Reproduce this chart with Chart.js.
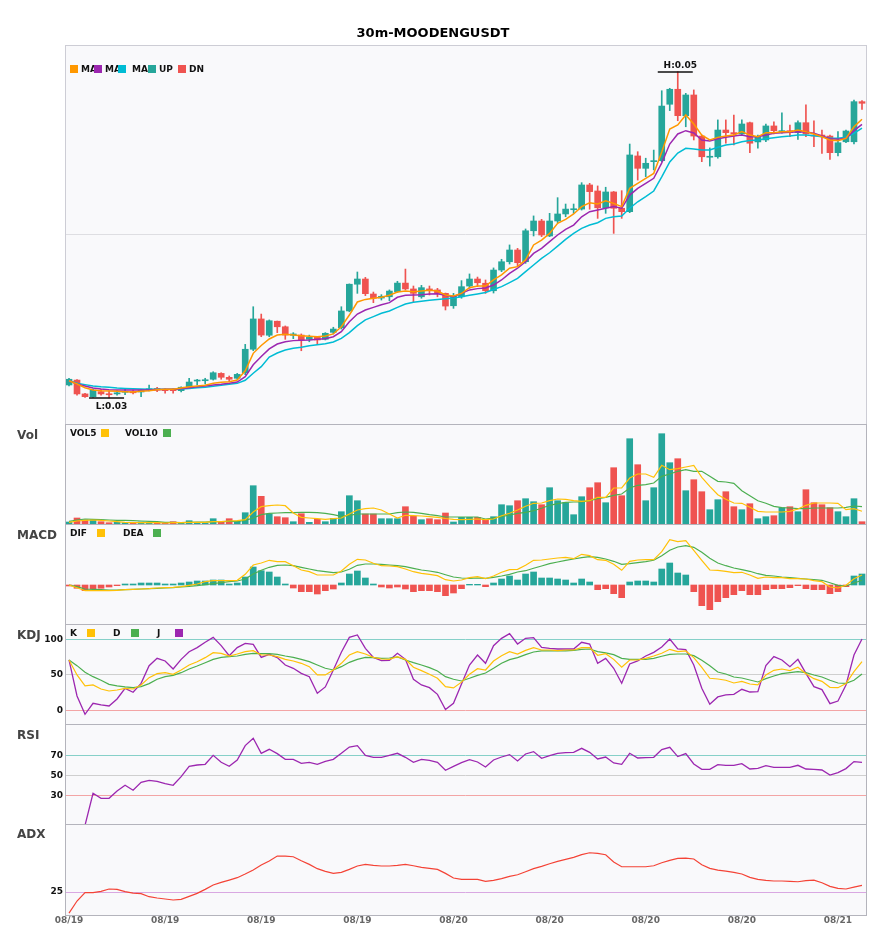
<!DOCTYPE html>
<html><head><meta charset="utf-8">
<script src="https://cdn.jsdelivr.net/npm/chart.js@4.4.1/dist/chart.umd.min.js"></script>
<style>
body{margin:0;background:#fff;}
#wrap{position:relative;width:885px;height:950px;overflow:hidden;font-family:'DejaVu Sans',sans-serif;}
canvas{position:absolute;left:0;}
.pl{position:absolute;left:17px;font-weight:bold;font-size:12px;color:#444;line-height:14px;white-space:nowrap;}
.lg{position:absolute;font-weight:bold;font-size:9px;color:#111;line-height:10px;white-space:nowrap;}
.sq{position:absolute;width:8px;height:8px;}
</style></head><body>
<div id="wrap">
<canvas id="cMain" width="885" height="424" style="top:0px"></canvas>
<canvas id="cVol" width="885" height="100" style="top:424px"></canvas>
<canvas id="cMacd" width="885" height="100" style="top:524px"></canvas>
<canvas id="cKdj" width="885" height="100" style="top:624px"></canvas>
<canvas id="cRsi" width="885" height="100" style="top:724px"></canvas>
<canvas id="cAdx" width="885" height="126" style="top:824px"></canvas>

<span class="lg" style="left:81px;top:64px">MA</span>
<span class="lg" style="left:105px;top:64px">MA</span>
<span class="lg" style="left:132px;top:64px">MA</span>
<span class="lg" style="left:159px;top:64px">UP</span>
<span class="lg" style="left:189px;top:64px">DN</span>
<span class="sq" style="left:70px;top:65px;background:#ff9800"></span>
<span class="sq" style="left:94px;top:65px;background:#9c27b0"></span>
<span class="sq" style="left:118px;top:65px;background:#00bcd4"></span>
<span class="sq" style="left:148px;top:65px;background:#26a69a"></span>
<span class="sq" style="left:178px;top:65px;background:#ef5350"></span>

<div class="pl" style="top:428px">Vol</div>
<span class="lg" style="left:70px;top:428px">VOL5</span>
<span class="sq" style="left:101px;top:429px;background:#ffc107"></span>
<span class="lg" style="left:125px;top:428px">VOL10</span>
<span class="sq" style="left:163px;top:429px;background:#4caf50"></span>

<div class="pl" style="top:528px">MACD</div>
<span class="lg" style="left:70px;top:528px">DIF</span>
<span class="sq" style="left:97px;top:529px;background:#ffc107"></span>
<span class="lg" style="left:123px;top:528px">DEA</span>
<span class="sq" style="left:153px;top:529px;background:#4caf50"></span>

<div class="pl" style="top:628px">KDJ</div>
<span class="lg" style="left:70px;top:628px">K</span>
<span class="sq" style="left:87px;top:629px;background:#ffc107"></span>
<span class="lg" style="left:113px;top:628px">D</span>
<span class="sq" style="left:131px;top:629px;background:#4caf50"></span>
<span class="lg" style="left:157px;top:628px">J</span>
<span class="sq" style="left:175px;top:629px;background:#9c27b0"></span>

<div class="pl" style="top:728px">RSI</div>
<div class="pl" style="top:827px">ADX</div>
</div>
<script>
// ---------- data ----------
const tickLabels = ['08/19','08/19','08/19','08/19','08/20','08/20','08/20','08/20','08/21'];
const times = []; // 30m candles from 08/19 05:00
for (let i = 0; i < 100; i++) {
  const m = 300 + i * 30, d = 19 + Math.floor(m / 1440), mm = m % 1440;
  times.push('08/' + d + ' ' + String(Math.floor(mm / 60)).padStart(2, '0') + ':' + String(mm % 60).padStart(2, '0'));
}
const opens = [
0.03080,0.03110,0.03025,0.03008,0.03039,0.03025,0.03025,0.03035,0.03039,0.03037,
0.03049,0.03059,0.03049,0.03053,0.03045,0.03066,0.03104,0.03106,0.03115,0.03151,
0.03127,0.03121,0.03155,0.03299,0.03485,0.03385,0.03471,0.03437,0.03385,0.03386,
0.03360,0.03372,0.03360,0.03403,0.03431,0.03534,0.03698,0.03730,0.03638,0.03613,
0.03621,0.03652,0.03705,0.03669,0.03621,0.03667,0.03663,0.03642,0.03566,0.03621,
0.03687,0.03730,0.03704,0.03658,0.03785,0.03836,0.03908,0.03836,0.04026,0.04086,
0.03994,0.04086,0.04129,0.04155,0.04159,0.04307,0.04270,0.04167,0.04264,0.04164,
0.04143,0.04485,0.04409,0.04450,0.04456,0.04802,0.04894,0.04732,0.04859,0.04607,
0.04477,0.04480,0.04644,0.04628,0.04620,0.04689,0.04571,0.04583,0.04669,0.04632,
0.04640,0.04628,0.04689,0.04613,0.04613,0.04607,0.04505,0.04572,0.04572,0.04818];
const closes = [
0.03115,0.03025,0.03008,0.03049,0.03025,0.03020,0.03032,0.03039,0.03032,0.03049,
0.03057,0.03049,0.03045,0.03045,0.03066,0.03098,0.03110,0.03110,0.03155,0.03127,
0.03115,0.03145,0.03299,0.03485,0.03386,0.03474,0.03437,0.03386,0.03393,0.03356,
0.03372,0.03356,0.03397,0.03423,0.03534,0.03698,0.03730,0.03640,0.03612,0.03624,
0.03656,0.03705,0.03669,0.03642,0.03677,0.03663,0.03642,0.03564,0.03628,0.03683,
0.03730,0.03707,0.03658,0.03785,0.03836,0.03908,0.03830,0.04026,0.04086,0.04000,
0.04086,0.04129,0.04159,0.04159,0.04307,0.04266,0.04167,0.04264,0.04164,0.04143,
0.04491,0.04409,0.04440,0.04456,0.04791,0.04894,0.04732,0.04859,0.04607,0.04480,
0.04480,0.04644,0.04628,0.04620,0.04681,0.04563,0.04599,0.04669,0.04640,0.04640,
0.04628,0.04689,0.04620,0.04607,0.04607,0.04505,0.04566,0.04638,0.04818,0.04808];
const highs = [
0.03121,0.03113,0.03028,0.03055,0.03053,0.03043,0.03045,0.03059,0.03049,0.03053,
0.03080,0.03066,0.03057,0.03057,0.03069,0.03121,0.03115,0.03121,0.03161,0.03155,
0.03135,0.03151,0.03329,0.03560,0.03515,0.03479,0.03472,0.03442,0.03401,0.03393,
0.03386,0.03376,0.03401,0.03434,0.03560,0.03700,0.03773,0.03740,0.03650,0.03634,
0.03663,0.03716,0.03791,0.03687,0.03691,0.03687,0.03673,0.03644,0.03642,0.03720,
0.03761,0.03742,0.03724,0.03798,0.03851,0.03939,0.03918,0.04037,0.04117,0.04096,
0.04133,0.04229,0.04190,0.04190,0.04321,0.04317,0.04301,0.04293,0.04267,0.04272,
0.04558,0.04511,0.04471,0.04521,0.04885,0.04900,0.05002,0.04869,0.04890,0.04613,
0.04534,0.04706,0.04706,0.04736,0.04706,0.04693,0.04613,0.04681,0.04695,0.04750,
0.04675,0.04701,0.04798,0.04701,0.04644,0.04613,0.04634,0.04644,0.04828,0.04824];
const lows = [
0.03074,0.03018,0.03003,0.03003,0.03017,0.03000,0.03017,0.03020,0.03025,0.03008,
0.03043,0.03039,0.03029,0.03029,0.03037,0.03059,0.03080,0.03086,0.03110,0.03115,
0.03100,0.03115,0.03143,0.03290,0.03376,0.03376,0.03401,0.03360,0.03364,0.03290,
0.03345,0.03327,0.03356,0.03393,0.03423,0.03529,0.03642,0.03628,0.03585,0.03601,
0.03597,0.03648,0.03663,0.03591,0.03612,0.03632,0.03621,0.03540,0.03550,0.03612,
0.03673,0.03683,0.03642,0.03644,0.03775,0.03822,0.03806,0.03826,0.03994,0.03990,
0.03990,0.04075,0.04112,0.04133,0.04153,0.04158,0.04102,0.04133,0.04010,0.04102,
0.04137,0.04337,0.04358,0.04399,0.04450,0.04763,0.04701,0.04664,0.04583,0.04450,
0.04423,0.04471,0.04563,0.04552,0.04613,0.04505,0.04532,0.04572,0.04620,0.04624,
0.04603,0.04587,0.04603,0.04542,0.04501,0.04464,0.04485,0.04566,0.04558,0.04770];
const ma5 = [
0.03106,0.03086,0.03063,0.03049,0.03045,0.03043,0.03041,0.03039,0.03037,0.03041,
0.03045,0.03051,0.03053,0.03053,0.03061,0.03069,0.03074,0.03078,0.03090,0.03096,
0.03100,0.03110,0.03167,0.03274,0.03322,0.03362,0.03386,0.03391,0.03386,0.03382,
0.03379,0.03376,0.03380,0.03393,0.03437,0.03509,0.03589,0.03605,0.03612,0.03618,
0.03630,0.03650,0.03656,0.03652,0.03656,0.03661,0.03656,0.03632,0.03626,0.03642,
0.03677,0.03687,0.03687,0.03724,0.03755,0.03796,0.03806,0.03847,0.03939,0.03969,
0.04010,0.04072,0.04096,0.04129,0.04174,0.04198,0.04190,0.04210,0.04194,0.04174,
0.04286,0.04317,0.04348,0.04378,0.04509,0.04650,0.04675,0.04736,0.04681,0.04613,
0.04583,0.04599,0.04607,0.04613,0.04634,0.04613,0.04603,0.04628,0.04628,0.04634,
0.04634,0.04644,0.04634,0.04620,0.04603,0.04583,0.04579,0.04593,0.04664,0.04710];
const ma10 = [
0.03106,0.03086,0.03074,0.03061,0.03055,0.03051,0.03049,0.03049,0.03049,0.03049,
0.03049,0.03051,0.03053,0.03053,0.03057,0.03063,0.03069,0.03074,0.03080,0.03084,
0.03090,0.03098,0.03131,0.03204,0.03255,0.03301,0.03331,0.03345,0.03352,0.03354,
0.03356,0.03360,0.03364,0.03376,0.03407,0.03468,0.03515,0.03540,0.03556,0.03572,
0.03585,0.03618,0.03630,0.03632,0.03634,0.03638,0.03640,0.03630,0.03621,0.03642,
0.03663,0.03671,0.03675,0.03693,0.03724,0.03765,0.03796,0.03836,0.03887,0.03918,
0.03959,0.04000,0.04035,0.04061,0.04112,0.04143,0.04153,0.04164,0.04174,0.04164,
0.04245,0.04286,0.04317,0.04348,0.04442,0.04558,0.04620,0.04640,0.04626,0.04583,
0.04577,0.04591,0.04599,0.04607,0.04613,0.04603,0.04603,0.04613,0.04624,0.04628,
0.04630,0.04634,0.04632,0.04624,0.04607,0.04591,0.04587,0.04593,0.04640,0.04679];
const ma20 = [
0.03106,0.03090,0.03082,0.03074,0.03069,0.03066,0.03061,0.03059,0.03057,0.03055,
0.03053,0.03053,0.03053,0.03053,0.03055,0.03059,0.03063,0.03066,0.03072,0.03078,
0.03084,0.03090,0.03109,0.03152,0.03192,0.03251,0.03276,0.03294,0.03305,0.03311,
0.03321,0.03327,0.03333,0.03344,0.03366,0.03401,0.03444,0.03479,0.03499,0.03520,
0.03534,0.03556,0.03577,0.03587,0.03593,0.03599,0.03605,0.03609,0.03613,0.03621,
0.03630,0.03638,0.03647,0.03666,0.03683,0.03708,0.03734,0.03775,0.03816,0.03857,
0.03891,0.03932,0.03973,0.04010,0.04041,0.04061,0.04075,0.04102,0.04112,0.04117,
0.04164,0.04204,0.04235,0.04270,0.04356,0.04448,0.04503,0.04532,0.04528,0.04521,
0.04521,0.04538,0.04552,0.04558,0.04572,0.04579,0.04583,0.04591,0.04597,0.04603,
0.04607,0.04613,0.04613,0.04609,0.04603,0.04593,0.04593,0.04599,0.04624,0.04655];
const volume = [
2,6,4,4,2.3,1.3,1.7,1.3,1.3,2,
1.3,1.3,1,2.3,1.3,3.3,1,1,5.3,2,
5.3,2.7,11.3,38.3,27.7,10,7.3,6.3,2.3,10.3,
1.7,4.7,2.3,5.7,12.3,28.3,23.3,10,10,5.3,
5.3,5.3,17.3,7.7,4.3,5.3,4.3,11,2,6.7,
6.7,6.7,4.3,7.3,19.3,18.3,23.3,25.3,22.3,19.3,
36.3,23.3,21.3,9.3,27.3,36.3,41.3,21.3,56.3,28.3,
85.3,59.3,23.3,36.3,90.3,61.3,65.3,33.3,44.3,32.3,
14.3,24.3,32.3,17.3,14.3,20.3,5.3,7.3,8.3,16.3,
17.3,12.3,34.3,21.3,19.3,16.3,12.3,7.3,25.3,2.3];
const vol5 = [
1.7,3,3.7,4,3.7,3,2.3,1.7,1.3,1.3,
1.3,1.3,1,1.3,1.3,1.7,1.7,1.7,2.3,2.3,
3,3.3,4.3,12,17.3,18.3,19,18.3,11,6.7,
6,5.3,4.7,5.3,6,10,14,15.3,16,14,
10,6,8.7,8.3,8,7.3,6.7,5.5,4.7,4.3,
4.7,5,4.3,5,8.3,10.7,14,17.7,20.7,21,
23.3,25,24.7,23.3,22.7,23.3,26.7,26.7,36,36,
46,50,50,46.7,58.7,54.3,55.3,57,58.7,46.7,
37.7,29.3,24.7,21,20.7,16.7,12.7,12,12,12,
12.7,15,18.7,21,21,21,20.7,14.3,15.3,12.7];
const vol10 = [
2.7,4,5,4.7,4.3,4,3.7,3.7,3.3,3,
2.7,2.3,1.7,1.7,1.3,1.7,2,2,2.3,2.3,
2.7,2.7,3.7,6,9.3,10.7,11,11.3,11.3,11.7,
11.7,11.3,10.7,9.3,7.7,8.7,10,10,10,10,
10,11.3,12,11.7,10.7,9.3,8.3,7,7,7,
7,7,5,6,7.3,9,10.7,11.7,13.3,15.7,
18.7,20.3,21.7,22,22,23.3,25.3,26.7,28.7,30,
36,38.7,39.3,41,47.7,50,52.7,54.3,52.7,52.7,
47.7,42.7,42,40.7,33.3,28.3,23.3,20.7,17.7,16.3,
16,15.3,15.3,16,16,16,16,16.7,18,17.3];
const macdHist = [
-1,-3.3,-5.7,-4,-3.3,-2,-0.7,1,1,2,
2,2,1,1,2,3,4,4,5,5,
1,2,8,18,14.3,13,8,1,-3,-6.7,
-6.7,-9,-5.7,-4,2,11,14,7,1,-2,
-3,-2,-4,-6.7,-5.7,-5.7,-6.7,-10.7,-8,-3.7,
0.7,0.7,-1.7,2,6,9,5,11,13,7,
7,6,5,2,6,3,-4.7,-3.7,-8.7,-12.7,
3,4,4,3,16,22,12,10,-6.7,-20.7,
-24.7,-16.7,-12.7,-9.7,-5.7,-9.7,-9.7,-4.7,-3.7,-3.7,
-2.7,-0.7,-3.7,-4.7,-4.7,-8.7,-6.7,-1.7,9,11];
const dif = [
0,-2.7,-5.7,-5.7,-5.7,-5.7,-5.3,-4.7,-4.3,-4,
-3.7,-3,-2.7,-2.3,-1.7,-0.3,1,3.3,4.3,4.3,
4.3,4.7,10.7,20,22,24.7,23.3,23.3,19.3,15,
13.3,10,10,10,14,20.7,25.7,25,21.7,19.3,
19,18.3,16,13.3,11.7,10.7,9.3,5.3,4,5,
7.3,8.3,6.3,9,12.7,15.3,15.7,19.7,24.7,25,
26,27,27.7,26.3,30.7,29.3,25.3,24.7,20.7,14.7,
23.7,25,25.3,25.3,33.3,45.3,43.3,44.3,34.7,24.7,
15,14.7,13.7,12.3,12.7,10,6.7,8,7.3,7.3,
6.3,6.3,6,4.3,3.3,-2,-3,-0.3,6.3,10];
const dea = [
0,-1.7,-4,-4.3,-4.7,-5,-5,-4.7,-4.3,-4,
-3.7,-3.3,-3,-2.7,-2,-1.3,-0.7,0.3,1.3,2.3,
3.3,4,6,11,14.7,17.7,19.7,20,19.3,17.7,
16,14.3,13.3,12.3,13,15.7,19.7,21,21,20.7,
20,19.3,18.3,16.7,15,14,12.7,10.3,8,7,
6.7,7,6.7,7.7,9,10.7,13,14.3,16.7,19,
21.3,23,24.7,26,27.3,28.3,27.7,26,23.7,20.7,
21.3,22.3,23.3,24.7,29.3,34.7,38,39.3,37.7,32.7,
26.7,22,19.3,17,15.3,13.7,11.3,9.7,9,8,
7.3,6.7,6,5.3,4.7,2.3,-0.3,-1,2,4.7];
const kLine = [
70.9,49.8,34.3,35.7,30,27.2,28.6,31,30,35.7,
46,51.6,53,50.7,56.8,63.8,68.5,74.2,81.2,80.3,
76.5,79.3,82.6,84,77.9,77.9,75.6,71.8,69.5,66.2,
61.5,49.8,49.8,56.8,66.2,77.9,82.6,79.3,74.6,72.3,
71.8,75.6,71.8,60.6,55.9,50.7,45.1,33.3,31.5,39.7,
50.7,58.7,56.8,69.5,77,82.6,79.3,84.5,88.3,85,
85,84,85,85,88.3,88.3,77.5,79.8,71.8,60.6,
70.9,70.9,73.2,76.5,80.3,85.9,82.6,83.6,74.2,60.6,
45.1,44.1,42.3,38.5,40.8,37.1,35.7,49.8,56.3,58.2,
55.9,60.6,51.6,44.6,40.8,32.4,31.9,37.6,54.5,68.5];
const dLine = [
70.9,62.9,53.5,47.4,42.3,36.6,34.3,32.9,31.9,33.3,
37.6,43.7,47.4,49.3,53,58.2,62.4,67.1,71.8,74.6,
75.6,76.5,78.9,80.3,79.8,79.8,78.9,76.5,74.6,71.8,
68.5,63.8,59.2,56.8,61.5,67.6,71.8,74.6,74.2,73.2,
73.7,75.1,70.9,67.1,63.8,60.1,55.4,47.4,43.7,41.3,
45.1,49.3,52.6,59.2,66.2,71.4,74.2,78.4,82.2,83.6,
83.6,83.6,83.6,84.5,85.9,86.4,82.6,80.8,78.4,73.2,
71.8,71.8,71.8,73.2,76.1,78.9,79.3,79.3,77,70.4,
62.9,54,51.2,46.9,45.5,42.7,39.9,44.6,48.4,51.6,
53,54.5,53,49.8,46.9,42.3,38.5,38,42.3,51.2];
const jLine = [
70.9,20.2,-5.6,9.9,7.5,6.1,16,31,25.4,38,
62.9,73.2,69.5,58.2,71.8,82.6,88.3,95.8,102.8,91.1,
77,88.3,94.4,93,74.6,78.9,74.2,63.8,59.2,52.1,
47.4,23.9,32.9,56.8,81.7,102.8,106.1,87.3,74.6,70,
70.4,80.3,71.8,43.7,35.7,31.9,22.5,1,9.9,37,
63.8,77.9,66.2,91.1,101.4,108,93.4,101.4,102.3,88.7,
87.3,86.4,86.4,86.4,95.8,93.4,66.2,73.2,59.2,38,
65.3,69.5,76.5,81.7,89.2,100.5,86.4,85.4,63.8,31,
8.5,18.8,21.6,22.5,29.6,25.8,26.3,62.9,75.6,70.9,
61.5,71.8,52.1,33.3,29.1,9.4,13.1,35.7,77.9,100.5];
const rsi = [
null,null,0,32,27,27,34.3,40,35,43,
45,44,41.7,40,48.7,59,60.3,61,70,63,
59,65.3,79.7,87,72,76,71.7,66,66,62,
63,61,64,66,72,78.3,79.7,70,68,68,
70,72,68,63,66,65,63,55,59,62.7,
65.7,63.3,58.3,65.3,68.3,70.7,64.3,71.3,73.7,67,
69.7,72,72.7,73,77,73,66.3,68.3,62.3,61,
72,67.3,67.7,68,75.7,78,68.7,71.7,61.3,56,
56,60.7,60,60,61.7,56.3,57,59.7,58,58,
58,60,56.3,56,55.3,50.3,52.7,56.7,63.7,63];
const adx = [
2,15.2,24.3,24.3,25.7,28.3,27.9,25.4,23.9,23.2,
19.9,18.5,17.4,16.3,17,20.3,23.5,27.9,32.6,35.5,
38,40.6,44.6,48.9,54.3,58.7,64.1,64.1,63.4,59.1,
55.1,50.4,47.5,45.3,46.4,49.6,53.3,55.1,54,53.3,
53.3,54,55.1,53.6,51.8,50.7,49.6,45.3,40.2,38.8,
38.8,38.8,36.6,37.7,39.5,42,43.8,47.1,50.4,52.9,
55.8,58.3,60.5,62.7,65.6,67.7,67,65.6,57.6,52.5,
52.5,52.5,52.5,53.6,56.9,59.4,61.6,61.9,60.9,54.7,
50.7,48.9,47.8,46.4,44.6,40.9,38.8,37.7,37,37,
36.6,36.2,37.3,38,35.1,31.2,29,28.3,30.4,32.2];

// ---------- styling ----------
const UP = '#26a69a', DN = '#ef5350';
const candleColors = opens.map((o, i) => closes[i] >= o ? UP : DN);
const macdColors = macdHist.map(v => v >= 0 ? UP : DN);

Chart.defaults.font.family = "'DejaVu Sans', sans-serif";

const areaPlugin = {
  id: 'panelArea',
  defaults: { bg: '#f9f9fb', border: '#b4b4bc' },
  beforeDraw(chart, _a, o) {
    const a = chart.chartArea, c = chart.ctx;
    c.save(); c.fillStyle = o.bg; c.fillRect(a.left, a.top, a.right - a.left, a.bottom - a.top); c.restore();
  },
  afterDraw(chart, _a, o) {
    const a = chart.chartArea, c = chart.ctx;
    c.save(); c.strokeStyle = o.border; c.lineWidth = 1;
    const l = Math.round(a.left), t = Math.round(a.top), r = Math.round(a.right), b = Math.round(a.bottom);
    c.strokeRect(l + 0.5, t + 0.5, r - l, b - t);
    c.restore();
  }
};
Chart.register(areaPlugin);

const hlPlugin = {
  id: 'hiLo',
  afterDatasetsDraw(chart) {
    const xs = chart.scales.x, ys = chart.scales.y, c = chart.ctx;
    let hi = 0, lo = 0;
    highs.forEach((v, i) => { if (v > highs[hi]) hi = i; });
    lows.forEach((v, i) => { if (v < lows[lo]) lo = i; });
    c.save();
    c.strokeStyle = '#111'; c.fillStyle = '#111'; c.lineWidth = 1.5;
    c.font = 'bold 9px "DejaVu Sans"'; c.textAlign = 'center';
    const hx = xs.getPixelForValue(hi), hy = Math.round(ys.getPixelForValue(highs[hi]));
    c.beginPath(); c.moveTo(hx - 20, hy); c.lineTo(hx + 15, hy); c.stroke();
    c.textBaseline = 'bottom'; c.fillText('H:' + highs[hi].toFixed(2), hx + 2.5, hy - 2);
    const lx = xs.getPixelForValue(lo), ly = Math.round(ys.getPixelForValue(lows[lo]));
    c.beginPath(); c.moveTo(lx - 20, ly); c.lineTo(lx + 15, ly); c.stroke();
    c.textBaseline = 'top'; c.fillText('L:' + lows[lo].toFixed(2), lx + 2.5, ly + 4);
    c.restore();
  }
};

function xScale(show) {
  return {
    type: 'category', labels: times, offset: true, display: show,
    grid: { display: false, drawTicks: false }, border: { display: false },
    afterFit: s => { if (show) s.height = 35; s.paddingLeft = 0; s.paddingRight = 0; },
    ticks: { autoSkip: false, maxRotation: 0, minRotation: 0, padding: 0, color: '#666',
      font: { size: 9, weight: 'bold' },
      callback: (v, i) => (i % 12 === 0 ? tickLabels[i / 12] : null) }
  };
}
function yScale(min, max, tickVals, gridColors, showLabels) {
  const s = {
    position: 'left', min: min, max: max,
    afterFit: sc => { sc.width = 65; sc.paddingTop = 0; sc.paddingBottom = 0; },
    ticks: { display: !!showLabels, padding: 2, color: '#111', font: { size: 9, weight: 'bold' } },
    grid: { display: !!tickVals, drawTicks: false, lineWidth: 1,
      color: c => (gridColors && c.tick && gridColors[String(c.tick.value)]) || 'rgba(0,0,0,0)' },
    border: { display: false }
  };
  if (tickVals) s.afterBuildTicks = sc => { sc.ticks = tickVals.map(v => ({ value: v })); };
  return s;
}
function baseOptions(scales, extraPlugins) {
  return {
    responsive: false, animation: false, events: [],
    layout: { padding: { left: 0, right: 19, top: 0, bottom: 0 } },
    scales: scales,
    plugins: Object.assign({ legend: { display: false }, tooltip: { enabled: false } }, extraPlugins || {})
  };
}
function line(data, color, width, order) {
  return { type: 'line', data: data, borderColor: color, borderWidth: width, pointRadius: 0,
    tension: 0, fill: false, order: order || 0, spanGaps: false };
}

// ---------- main candles ----------
new Chart(document.getElementById('cMain'), {
  type: 'bar',
  data: { labels: times, datasets: [
    line(ma5, '#ff9800', 1.5, 0),
    line(ma10, '#9c27b0', 1.5, 0),
    line(ma20, '#00bcd4', 1.5, 0),
    { type: 'bar', data: opens.map((o, i) => [o, closes[i]]), backgroundColor: candleColors,
      barThickness: 6, grouped: false, minBarLength: 1, order: 5 },
    { type: 'bar', data: lows.map((l, i) => [l, highs[i]]), backgroundColor: candleColors,
      barThickness: 1, grouped: false, order: 6 }
  ]},
  options: baseOptions(
    { x: xScale(false), y: yScale(0.028405, 0.051656, [0.04], { '0.04': '#dedee2' }, false) },
    { title: { display: true, text: '30m-MOODENGUSDT', color: '#000', font: { size: 13, weight: 'bold' },
        padding: { top: 26, bottom: 3.4 } },
      panelArea: { border: '#cdcdd5' } }),
  plugins: [hlPlugin]
});

// ---------- volume ----------
new Chart(document.getElementById('cVol'), {
  type: 'bar',
  data: { labels: times, datasets: [
    line(vol5, '#ffc107', 1.2, 0),
    line(vol10, '#4caf50', 1.2, 0),
    { type: 'bar', data: volume, backgroundColor: candleColors, barThickness: 6, grouped: false, order: 5 }
  ]},
  options: baseOptions({ x: xScale(false), y: yScale(0, 100, null, null, false) })
});

// ---------- MACD ----------
new Chart(document.getElementById('cMacd'), {
  type: 'bar',
  data: { labels: times, datasets: [
    line(dif, '#ffc107', 1.2, 0),
    line(dea, '#4caf50', 1.2, 0),
    { type: 'bar', data: macdHist, backgroundColor: macdColors, barThickness: 6, grouped: false, order: 5 }
  ]},
  options: baseOptions({ x: xScale(false), y: yScale(-39, 61, null, null, false) })
});

// ---------- KDJ ----------
new Chart(document.getElementById('cKdj'), {
  type: 'line',
  data: { labels: times, datasets: [
    line(kLine, '#ffc107', 1.2, 0),
    line(dLine, '#4caf50', 1.2, 0),
    line(jLine, '#9c27b0', 1.3, 0)
  ]},
  options: baseOptions({ x: xScale(false),
    y: yScale(-19.3, 121.6, [0, 50, 100], { '0': '#f3a5a5', '50': '#cfcfcf', '100': '#86d0c8' }, true) })
});

// ---------- RSI ----------
new Chart(document.getElementById('cRsi'), {
  type: 'line',
  data: { labels: times, datasets: [ line(rsi, '#9c27b0', 1.3, 0) ] },
  options: baseOptions({ x: xScale(false),
    y: yScale(1.3, 101.3, [30, 50, 70], { '30': '#f3a5a5', '50': '#cfcfcf', '70': '#86d0c8' }, true) })
});

// ---------- ADX ----------
new Chart(document.getElementById('cAdx'), {
  type: 'line',
  data: { labels: times, datasets: [ line(adx, '#f44336', 1.2, 0) ] },
  options: baseOptions({ x: xScale(true),
    y: yScale(0, 99, [25], { '25': '#d9a8e2' }, true) })
});
</script>
</body></html>
